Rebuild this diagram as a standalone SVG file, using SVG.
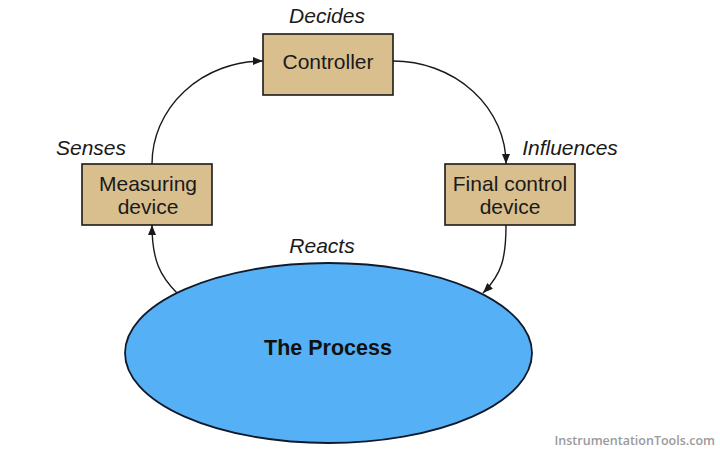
<svg xmlns="http://www.w3.org/2000/svg" width="720" height="452" viewBox="0 0 720 452">
<defs>
<style>
.box{fill:#d9be8e;stroke:#1a1a1a;stroke-width:1.6}
.lbl{font-family:"Liberation Sans",Arial,sans-serif;font-size:21px;fill:#1a1a1a;text-anchor:middle}
.it{font-family:"Liberation Sans",Arial,sans-serif;font-size:21px;font-style:italic;fill:#1a1a1a;text-anchor:middle}
.conn{fill:none;stroke:#1a1a1a;stroke-width:1.4}
</style>
<marker id="arr" viewBox="0 0 10 8" refX="10" refY="4" markerWidth="10" markerHeight="8" markerUnits="userSpaceOnUse" orient="auto">
<path d="M0,0 L10,4 L0,8 Z" fill="#1a1a1a"/>
</marker>
</defs>
<rect width="720" height="452" fill="#ffffff"/>
<g id="connectors">
<path class="conn" d="M152,164 A111,103 0 0 1 263,61" marker-end="url(#arr)"/>
<path class="conn" d="M393,61 A113,103 0 0 1 506,164" marker-end="url(#arr)"/>
<path class="conn" d="M506,225 C506,258 502,274 483,293" marker-end="url(#arr)"/>
<path class="conn" d="M177,293 C160,276 152,260 152,225" marker-end="url(#arr)"/>
</g>
<g id="process">
<ellipse cx="328.5" cy="353" rx="203.5" ry="90" fill="#55b0f5" stroke="#111a2a" stroke-width="1.8"/>
<text x="328" y="355" font-family="'Liberation Sans',Arial,sans-serif" font-size="21.5" font-weight="bold" fill="#111" text-anchor="middle">The Process</text>
</g>
<g id="controller">
<rect class="box" x="263" y="34" width="130" height="61"/>
<text class="lbl" x="328" y="69">Controller</text>
</g>
<g id="measuring">
<rect class="box" x="82" y="164" width="130" height="61"/>
<text class="lbl" x="148" y="191">Measuring</text>
<text class="lbl" x="148" y="214">device</text>
</g>
<g id="final">
<rect class="box" x="445" y="164" width="130" height="61"/>
<text class="lbl" x="510" y="191">Final control</text>
<text class="lbl" x="510" y="214">device</text>
</g>
<g id="labels">
<text class="it" x="327" y="23">Decides</text>
<text class="it" x="91" y="155">Senses</text>
<text class="it" x="570" y="155">Influences</text>
<text class="it" x="322" y="253">Reacts</text>
</g>
<text x="715" y="445" font-family="'Open Sans',sans-serif" font-size="12.5" font-weight="600" fill="#9a9a9a" text-anchor="end">InstrumentationTools.com</text>
</svg>
